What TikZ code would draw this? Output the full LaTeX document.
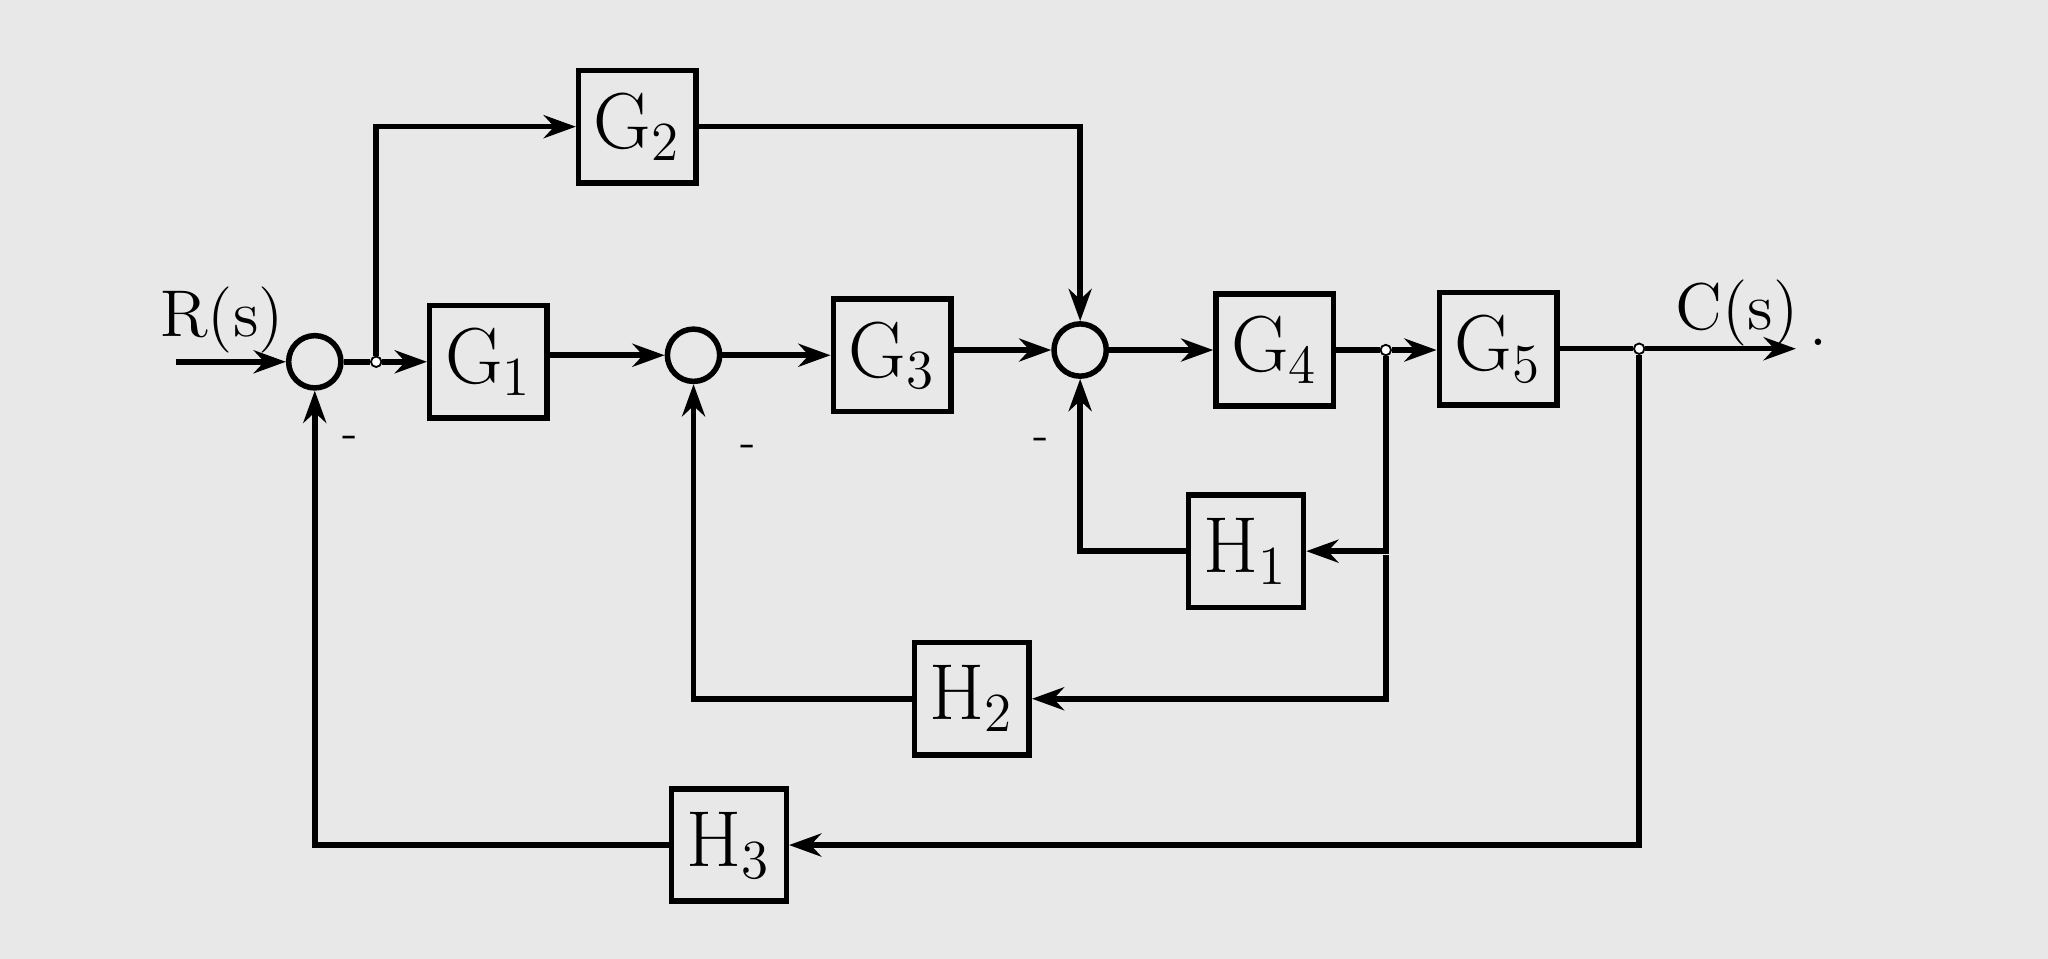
\documentclass[tikz,border=0pt]{standalone}
\usetikzlibrary{arrows.meta}
\begin{document}
\begin{tikzpicture}[x=0.01cm,y=-0.01cm,
 blk/.style={draw,line width=1.2pt,minimum width=0.87cm,minimum height=0.86cm,font=\LARGE},
 sumj/.style={draw,circle,line width=1.2pt,minimum size=0.4cm,inner sep=0pt},
 dotj/.style={draw,circle,fill=white,minimum size=0.08cm,inner sep=0pt},
 ln/.style={line width=1.2pt},
 ar/.style={ln,-{Stealth[length=7pt,width=5pt]}},
 lbl/.style={font=\Large}]
\fill[gray!18] (0,0) rectangle (1568,734);
\useasboundingbox (0,0) rectangle (1568,734);
\node[sumj] (s1) at (241,277) {};
\node[sumj] (s2) at (531,272) {};
\node[sumj] (s3) at (827,268) {};
\node[blk] (g1) at (374,277) {G$_1$};
\node[blk] (g2) at (488,97) {G$_2$};
\node[blk] (g3) at (683,272) {G$_3$};
\node[blk] (g4) at (976,268) {G$_4$};
\node[blk] (g5) at (1147,267) {G$_5$};
\node[blk] (h1) at (954,422) {H$_1$};
\node[blk] (h2) at (744,535) {H$_2$};
\node[blk] (h3) at (558,647) {H$_3$};
\coordinate (in) at (135,277);
\coordinate (out) at (1375,267);
\node[dotj] (d1) at (288,277) {};
\node[dotj] (d2) at (1061,268) {};
\node[dotj] (d3) at (1255,267) {};
\coordinate (d4) at (1061,425);
\node[lbl] (R) at (170,245) {R(s)};
\node[lbl] (C) at (1330,240) {C(s)};
\node[lbl] (per) at (1392,262) {.};
\node (m1) at (268,338) {-};
\node (m2) at (573,345) {-};
\node (m3) at (797,340) {-};
\draw[ar] (in) -- (s1);
\draw[ln] (s1) -- (d1);
\draw[ar] (d1) -- (g1);
\draw[ar] (d1) |- (g2);
\draw[ar] (g2) -| (s3);
\draw[ar] (g1.east |- s2) -- (s2);
\draw[ar] (s2) -- (g3);
\draw[ar] (g3.east |- s3) -- (s3);
\draw[ar] (s3) -- (g4);
\draw[ln] (g4) -- (d2);
\draw[ar] (d2) -- (g5.west |- d2);
\draw[ln] (g5) -- (d3);
\draw[ar] (d3) -- (out);
\draw[ar] (d2) |- (h1);
\draw[ar] (h1) -| (s3);
\draw[ar] (d4) |- (h2);
\draw[ar] (h2) -| (s2);
\draw[ar] (d3) |- (h3);
\draw[ar] (h3) -| (s1);
\end{tikzpicture}
\end{document}
